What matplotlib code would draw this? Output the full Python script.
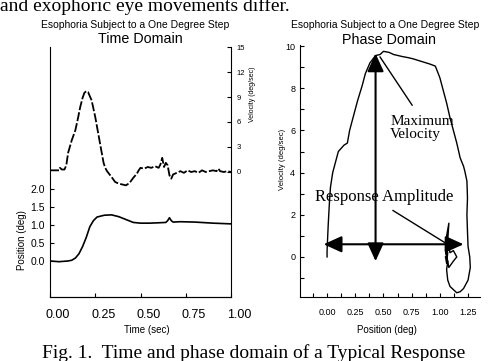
import numpy as np
import matplotlib.pyplot as plt
from matplotlib.transforms import ScaledTranslation

plt.rcParams['font.family'] = ['Liberation Sans', 'DejaVu Sans']
SERIF = ['Liberation Serif', 'DejaVu Serif']

# Time domain: velocity trace (dashed) and position trace
vel_t = [0.00, 0.05, 0.055, 0.065, 0.08, 0.09, 0.10, 0.12, 0.14, 0.155, 0.167, 0.18, 0.19, 0.20,
         0.21, 0.23, 0.25, 0.26, 0.28, 0.296, 0.305, 0.315, 0.34, 0.36, 0.38, 0.40, 0.42,
         0.44, 0.46, 0.48, 0.49, 0.50, 0.52, 0.54, 0.56, 0.58, 0.60, 0.61, 0.62, 0.63,
         0.64, 0.65, 0.66, 0.67, 0.68, 0.70, 0.72, 0.74, 0.76, 0.78, 0.80, 0.82, 0.84,
         0.86, 0.88, 0.90, 0.92, 0.93, 0.94, 0.96, 0.98, 1.00]
vel_v = [0.2, 0.2, 0.5, 0.3, 0.3, 0.8, 2.3, 3.8, 5.0, 6.5, 7.8, 8.9, 9.5, 9.7,
         9.6, 8.6, 6.6, 5.4, 3.0, 1.1, 0.5, 0.1, -0.6, -1.2, -1.4, -1.5, -1.6,
         -1.3, -0.7, -0.2, 0.2, 0.5, 0.4, 0.6, 0.5, 0.7, 0.5, 0.9, 1.7, 0.6,
         1.1, 0.8, -0.4, -0.8, -0.3, -0.1, 0.1, -0.1, 0.2, 0.0, 0.1, -0.1, 0.2,
         0.0, 0.1, 0.2, 0.1, 0.4, 0.1, 0.0, 0.1, 0.0]

pos_t = [0.00, 0.05, 0.10, 0.12, 0.14, 0.16, 0.18, 0.20, 0.22, 0.24, 0.26, 0.30,
         0.34, 0.38, 0.42, 0.46, 0.50, 0.55, 0.60, 0.64, 0.65, 0.66, 0.67, 0.68,
         0.72, 0.80, 0.90, 1.00]
pos_p = [0.0, -0.02, 0.0, 0.02, 0.08, 0.2, 0.4, 0.65, 0.95, 1.12, 1.22, 1.27,
         1.28, 1.23, 1.15, 1.07, 1.05, 1.05, 1.06, 1.07, 1.12, 1.2, 1.12, 1.08,
         1.09, 1.08, 1.05, 1.03]

# Phase domain: position vs velocity
phase_pos = [0.00, 0.00, 0.01, 0.02, 0.03, 0.05, 0.10, 0.15, 0.18, 0.20, 0.24, 0.27, 0.31,
             0.34, 0.38, 0.43, 0.47, 0.50, 0.55, 0.59, 0.63, 0.67, 0.72, 0.76, 0.82, 0.88,
             0.91, 0.96, 1.00, 1.03, 1.06, 1.09, 1.12, 1.15, 1.18, 1.21, 1.22, 1.24, 1.245,
             1.24, 1.245, 1.25, 1.265, 1.27, 1.25, 1.21, 1.18, 1.15, 1.12, 1.09, 1.07, 1.06,
             1.07, 1.05, 1.06, 1.08, 1.07, 1.09, 1.12, 1.15, 1.12, 1.08, 1.06, 1.05, 1.07,
             1.06, 1.05]
phase_vel = [0.0, 0.3, 1.5, 2.5, 3.3, 4.0, 5.0, 5.3, 5.4, 6.0, 6.8, 7.4, 8.1,
             8.7, 9.2, 9.55, 9.6, 9.75, 9.7, 9.6, 9.55, 9.5, 9.45, 9.4, 9.3, 9.2,
             9.15, 9.05, 8.5, 7.9, 7.3, 6.6, 6.0, 5.4, 4.7, 4.3, 4.1, 3.6, 2.8,
             2.0, 1.2, 0.5, 0.0, -0.5, -1.1, -1.5, -1.65, -1.7, -1.55, -1.4, -1.1, -0.6,
             -0.2, 0.3, 1.0, 1.6, 0.8, 0.2, 0.3, 0.0, -0.2, -0.5, 0.0, 0.5, 0.2,
             -0.3, 0.0]

time_ticks = [0.0, 0.25, 0.5, 0.75, 1.0]
pos_ticks = [0.0, 0.5, 1.0, 1.5, 2.0]
vel_ticks = [0, 3, 6, 9, 12, 15]
phase_x_ticks = [0.0, 0.25, 0.5, 0.75, 1.0, 1.25]
phase_y_ticks = [0, 2, 4, 6, 8, 10]

fig = plt.figure(figsize=(5, 3.61), dpi=100)

# ---- left panel: time domain ----
ax1 = fig.add_axes([0.1, 0.1773, 0.362, 0.6925])
ax1.plot(pos_t, pos_p, color='k', lw=1.2)
ax1.set_xlim(0, 1)
ax1.set_ylim(-1.0, 5.94)
ax1.set_xticks(time_ticks)
ax1.set_xticklabels(['%.2f' % t for t in time_ticks], fontsize=9)
ax1.set_yticks(pos_ticks)
ax1.set_yticklabels(['%.1f' % p for p in pos_ticks], fontsize=7.5)
ax1.tick_params(direction='in', length=3, width=0.8)
ax1.tick_params(axis='x', pad=9)
ax1.spines['top'].set_visible(False)
ax1.spines['right'].set_visible(False)
for lab in ax1.get_xticklabels():
    lab.set_transform(lab.get_transform() + ScaledTranslation(0.08, 0, fig.dpi_scale_trans))

ax1v = ax1.twinx()
ax1v.plot(vel_t, vel_v, color='k', lw=1.3, dashes=(5, 1.2))
ax1v.set_ylim(-15, 15)
ax1v.set_yticks(vel_ticks)
ax1v.set_yticklabels([str(v) for v in vel_ticks], fontsize=5.5)
ax1v.tick_params(direction='in', length=3, width=0.8, pad=4)
ax1v.spines['top'].set_visible(False)
ax1v.spines['left'].set_visible(False)

fig.text(0.27, 1 - 25 / 361, 'Esophoria Subject to a One Degree Step', ha='center', va='center', fontsize=7.5)
fig.text(0.28, 1 - 39 / 361, 'Time Domain', ha='center', va='center', fontsize=10.3)
fig.text(22 / 500, 1 - 240 / 361, 'Position (deg)', rotation=90, ha='center', va='center', fontsize=7)
fig.text(253 / 500, 1 - 94 / 361, 'Velocity (deg/sec)', rotation=90, ha='center', va='center', fontsize=5)
fig.text(147 / 500, 1 - 330 / 361, 'Time (sec)', ha='center', va='center', fontsize=7)

# ---- right panel: phase domain ----
ax2 = fig.add_axes([0.6, 0.1773, 0.36, 0.698])
ax2.plot(phase_pos, phase_vel, color='k', lw=1.0)
ax2.set_xlim(-0.24, 1.356)
ax2.set_ylim(-1.9, 10.05)
ax2.set_xticks(phase_x_ticks)
ax2.set_xticklabels(['%.2f' % p for p in phase_x_ticks], fontsize=6.5)
ax2.set_xticks([-0.125, 0.125, 0.375, 0.625, 0.875, 1.125], minor=True)
ax2.set_yticks(phase_y_ticks)
ax2.set_yticklabels([str(v) for v in phase_y_ticks], fontsize=6.5)
ax2.set_yticks([-1, 1, 3, 5, 7, 9], minor=True)
ax2.tick_params(direction='in', length=3, width=0.8)
ax2.tick_params(which='minor', direction='in', length=3, width=0.8)
ax2.tick_params(axis='x', pad=8)
ax2.spines['top'].set_visible(False)
ax2.spines['right'].set_visible(False)

arrow = dict(arrowstyle='<|-|>,head_length=1.1,head_width=0.5', color='k', lw=1.5,
             shrinkA=0, shrinkB=0, mutation_scale=10)
ax2.annotate('', xy=(0.43, 9.65), xytext=(0.43, -0.2), arrowprops=arrow)
ax2.annotate('', xy=(-0.03, 0.6), xytext=(1.21, 0.6), arrowprops=arrow)
ax2.plot([0.754, 0.47], [7.2, 9.48], color='k', lw=1.0)
ax2.plot([0.585, 1.05], [2.2, 0.66], color='k', lw=1.0)
ax2.text(0.56, 6.75, 'Maximum\nVelocity', ha='left', va='top', fontsize=11,
         family=SERIF, linespacing=1.0)
ax2.text(-0.105, 2.84, 'Response Amplitude', ha='left', va='center', fontsize=12, family=SERIF)

fig.text(0.77, 1 - 25 / 361, 'Esophoria Subject to a One Degree Step', ha='center', va='center', fontsize=7.5)
fig.text(389 / 500, 1 - 40 / 361, 'Phase Domain', ha='center', va='center', fontsize=10.3)
fig.text(283 / 500, 1 - 159 / 361, 'Velocity (deg/sec)', rotation=90, ha='center', va='center', fontsize=5.5)
fig.text(387 / 500, 1 - 330 / 361, 'Position (deg)', ha='center', va='center', fontsize=7)

# surrounding page text
fig.text(0.0, 1 - 11 / 361, 'and exophoric eye movements differ.', ha='left', va='baseline',
         fontsize=14, family=SERIF)
fig.text(254 / 500, 1 - 353 / 361, 'Fig. 1.  Time and phase domain of a Typical Response',
         ha='center', va='center', fontsize=14, family=SERIF)

fig.savefig('out.png', dpi=100)
